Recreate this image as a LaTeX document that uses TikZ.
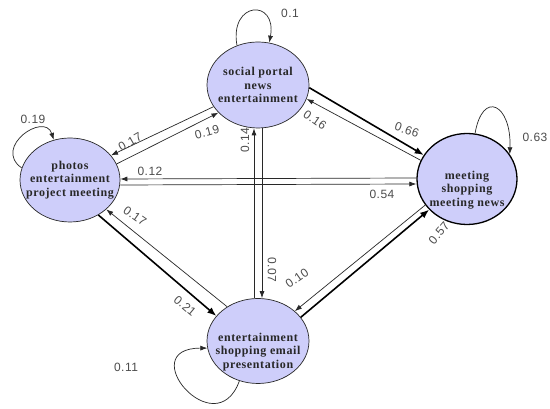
\documentclass[tikz,border=0pt]{standalone}
\usepackage{fontspec}
\usetikzlibrary{shapes.geometric,arrows.meta}
\newfontfamily\statefont[LetterSpace=5.0]{Liberation Serif}
\newfontfamily\probfont[LetterSpace=4.0]{Liberation Sans}
\definecolor{statefill}{RGB}{206,206,250}
\definecolor{inkgray}{RGB}{40,40,40}

\begin{document}
\begin{tikzpicture}[x=1pt,y=1pt,
  state/.style={ellipse,draw=inkgray,line width=0.7pt,fill=statefill,inner sep=0pt,minimum width=102pt,minimum height=86pt},
  statetext/.style={font=\statefont\bfseries\fontsize{12}{13.5}\selectfont,align=center,text=inkgray},
  edge/.style={-{Latex[length=7pt,width=5pt]},line width=0.7pt,draw=inkgray},
  heavy/.style={line width=1.6pt,draw=black,-{Latex[length=9pt,width=7pt]}},
  prob/.style={font=\probfont\fontsize{12}{12}\selectfont,text=black!70,inner sep=0pt}]
\fill[white] (0,0) rectangle (550,409);
\useasboundingbox (0,0) rectangle (550,409);
% states
\node[state,label={[statetext]center:{social portal\\news\\entertainment}}] (social) at (258,324) {};
\node[state,minimum width=100pt,minimum height=84pt,label={[statetext]center:{photos\\entertainment\\project meeting}}] (photos) at (70,229) {};
\node[state,line width=1.3pt,draw=black,minimum width=100pt,minimum height=91pt,label={[statetext,yshift=-11pt]center:{meeting\\shopping\\meeting news}}] (meeting) at (467,230) {};
\node[state,minimum height=85pt,label={[statetext,yshift=-11pt]center:{entertainment\\shopping email\\presentation}}] (shopping) at (258,68) {};
% self loops
\draw[edge] (social.118) .. controls +(100:45) and +(80:45) .. (social.75);
\draw[edge] (photos.166) .. controls +(145:36) and +(108:30) .. (photos.112);
\draw[edge] (meeting.80) .. controls +(80:45) and +(88:50) .. (meeting.30);
\draw[edge] (shopping.245) .. controls +(250:70) and +(180:75) .. (shopping.188);
% transitions
\draw[edge] (social.206) -- (photos.31);
\draw[edge] (photos.19) -- (social.215);
\draw[edge,heavy] (social.357) -- (meeting.151);
\draw[edge] (meeting.158) -- (social.344);
\draw[edge] ([yshift=1pt]meeting.west) -- ([yshift=1pt]photos.east);
\draw[edge] ([yshift=-5pt]photos.east) -- ([yshift=-5pt]meeting.west);
\draw[edge] ([xshift=-4pt]shopping.north) -- ([xshift=-4pt]social.south);
\draw[edge] ([xshift=4pt]social.south) -- ([xshift=4pt]shopping.north);
\draw[edge] (shopping.132) -- (photos.321);
\draw[edge,heavy] (photos.309) -- (shopping.149);
\draw[edge] (meeting.212) -- (shopping.39);
\draw[edge,heavy] (shopping.29) -- (meeting.219);
% probabilities
\node[prob] (p-ss) at (290,396) {0.1};
\node[prob] (p-pp) at (33,290) {0.19};
\node[prob] (p-mm) at (535,272) {0.63};
\node[prob] (p-ee) at (126,42) {0.11};
\node[prob,rotate=30] (p-sp) at (130,267) {0.17};
\node[prob,rotate=15] (p-ps) at (207,277) {0.19};
\node[prob] (p-mp) at (150,238) {0.12};
\node[prob] (p-pm) at (382,215) {0.54};
\node[prob,rotate=90] (p-es) at (245,269) {0.14};
\node[prob,rotate=-90] (p-se) at (272,139) {0.07};
\node[prob,rotate=-35] (p-ms) at (315,289) {0.16};
\node[prob,rotate=-20] (p-sm) at (407,279) {0.66};
\node[prob,rotate=-35] (p-ep) at (135,193) {0.17};
\node[prob,rotate=-40] (p-pe) at (185,103) {0.21};
\node[prob,rotate=35] (p-me) at (297,131) {0.10};
\node[prob,rotate=50] (p-em) at (439,176) {0.57};
\end{tikzpicture}
\end{document}
